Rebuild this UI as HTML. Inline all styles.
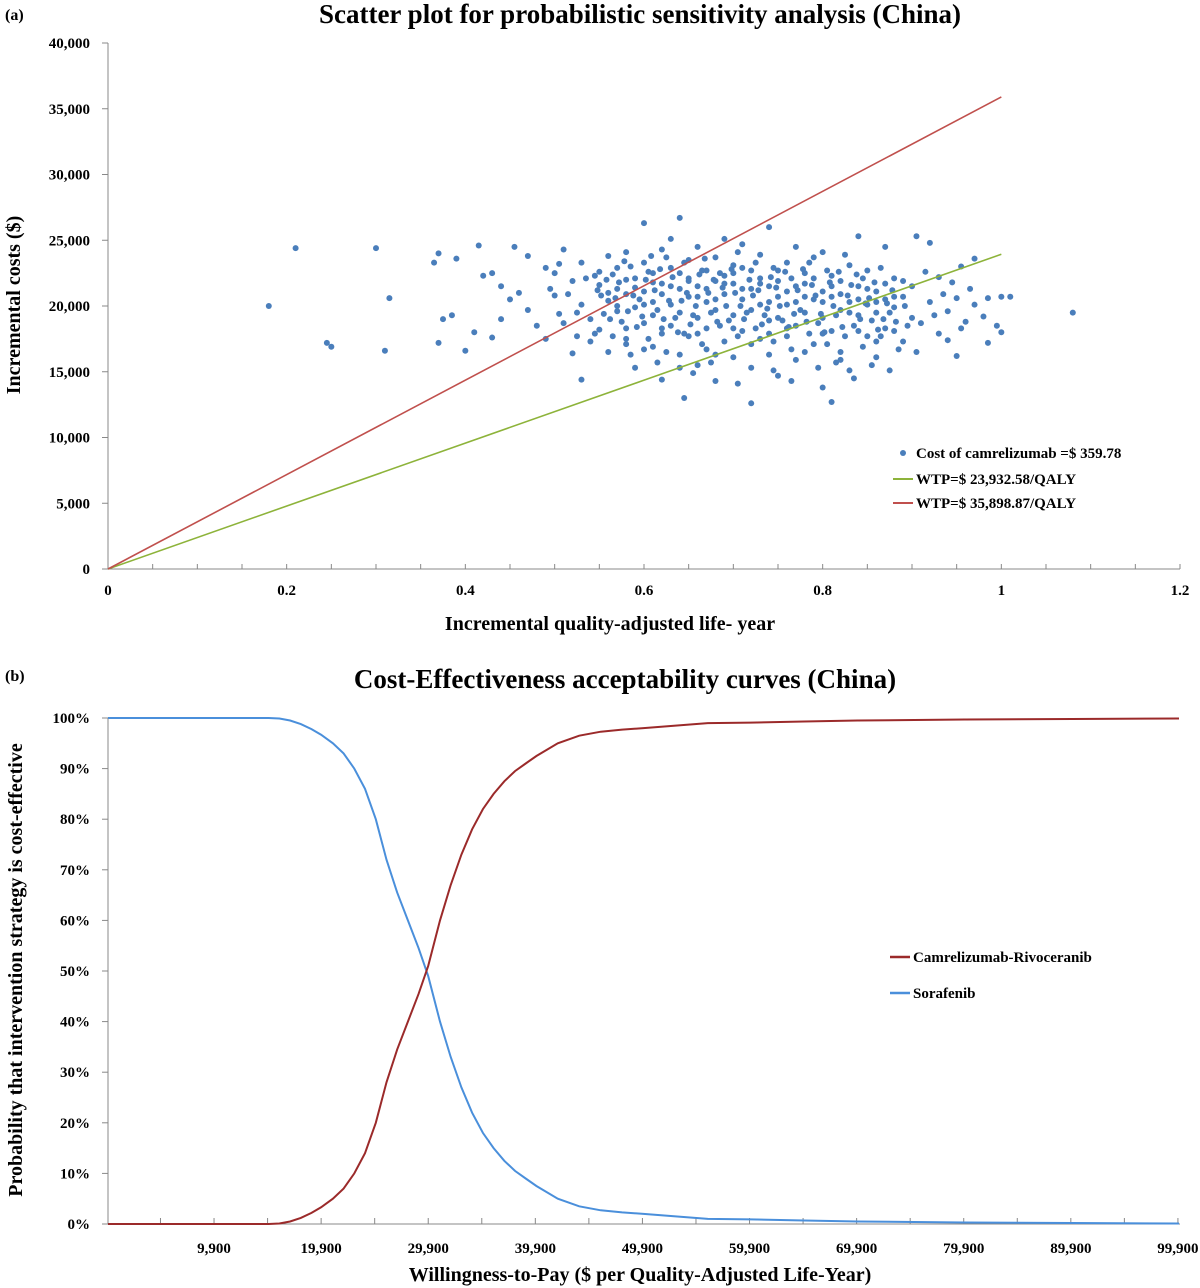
<!DOCTYPE html>
<html><head><meta charset="utf-8">
<style>
body{margin:0;background:#fff;}
svg{display:block;font-family:"Liberation Serif",serif;font-weight:bold;}
</style></head>
<body>
<svg id="chart" width="1200" height="1288" viewBox="0 0 1200 1288">
<text x="5" y="20" font-size="16">(a)</text>
<text x="640" y="23" font-size="27" text-anchor="middle">Scatter plot for probabilistic sensitivity analysis (China)</text>
<text x="610" y="630" font-size="20" text-anchor="middle">Incremental  quality-adjusted life- year</text>
<text transform="translate(20,305) rotate(-90)" font-size="20" text-anchor="middle">Incremental costs ($)</text>
<g id="scatterAxes"></g>
<g id="scatterMarks"></g>
<g>
<circle cx="903" cy="453" r="3" fill="#4a7ebb"/>
<text x="916" y="458" font-size="15">Cost of camrelizumab =$ 359.78</text>
<line x1="893" y1="479" x2="913" y2="479" stroke="#8db33a" stroke-width="2"/>
<text x="916" y="484" font-size="15">WTP=$ 23,932.58/QALY</text>
<line x1="893" y1="503" x2="913" y2="503" stroke="#c0504d" stroke-width="2"/>
<text x="916" y="508" font-size="15">WTP=$ 35,898.87/QALY</text>
</g>
<text x="5" y="681" font-size="16">(b)</text>
<text x="625" y="688" font-size="27" text-anchor="middle">Cost-Effectiveness acceptability curves (China)</text>
<text x="640" y="1281" font-size="20" text-anchor="middle">Willingness-to-Pay ($ per Quality-Adjusted Life-Year)</text>
<text transform="translate(22,970) rotate(-90)" font-size="20" text-anchor="middle">Probability that intervention strategy is cost-effective</text>
<g id="ceacAxes"></g>
<g id="ceacMarks"></g>
<g>
<line x1="890" y1="957" x2="910" y2="957" stroke="#9b2a2a" stroke-width="2.5"/>
<text x="913" y="962" font-size="15">Camrelizumab-Rivoceranib</text>
<line x1="890" y1="993" x2="910" y2="993" stroke="#4a8fdb" stroke-width="2.5"/>
<text x="913" y="998" font-size="15">Sorafenib</text>
</g>
</svg>
<script>
const scatterXTicks=[0,0.2,0.4,0.6,0.8,1,1.2];
const scatterYTicks=[0,5000,10000,15000,20000,25000,30000,35000,40000];
const wtpValues=[23932.58,35898.87];
const wtpColors=["#8db33a","#c0504d"];
const scatterPoints=[[0.18,20000],[0.21,24400],[0.245,17200],[0.25,16900],[0.30,24400],[0.31,16600],[0.315,20600],[0.365,23300],[0.37,24000],[0.37,17200],[0.375,19000],[0.385,19300],[0.39,23600],[0.40,16600],[0.41,18000],[0.415,24600],[0.42,22300],[0.43,22500],[0.44,19000],[0.45,20500],[0.455,24500],[0.46,21000],[0.47,23800],[0.48,18500],[0.44,21500],[0.43,17600],[0.47,19700],[0.49,22900],[0.49,17500],[0.50,20800],[0.50,22500],[0.51,18700],[0.51,24300],[0.52,21900],[0.52,16400],[0.53,14400],[0.53,20100],[0.53,23300],[0.54,19000],[0.54,17300],[0.55,21600],[0.55,22600],[0.55,18200],[0.56,20400],[0.56,23800],[0.56,16500],[0.57,19600],[0.57,21300],[0.57,22900],[0.58,18300],[0.58,20900],[0.58,24100],[0.58,17100],[0.59,19900],[0.59,22100],[0.59,15300],[0.60,21100],[0.60,18700],[0.60,23300],[0.60,26300],[0.61,20300],[0.61,16900],[0.61,22500],[0.61,19300],[0.62,21700],[0.62,24300],[0.62,17900],[0.62,14400],[0.63,20100],[0.63,22900],[0.63,18500],[0.63,25100],[0.64,21300],[0.64,19500],[0.64,26700],[0.64,16300],[0.645,13000],[0.65,20700],[0.65,23500],[0.65,17700],[0.65,22100],[0.66,19100],[0.66,21500],[0.66,15500],[0.66,24500],[0.67,20300],[0.67,22700],[0.67,18300],[0.67,16700],[0.68,21900],[0.68,19700],[0.68,23700],[0.68,14300],[0.69,20900],[0.69,17300],[0.69,22300],[0.69,25100],[0.70,19300],[0.70,21700],[0.70,16100],[0.70,23100],[0.71,20500],[0.71,18100],[0.71,22900],[0.71,24700],[0.72,12600],[0.72,21300],[0.72,19700],[0.72,15300],[0.73,22100],[0.73,20100],[0.73,17500],[0.73,23900],[0.74,26000],[0.74,21500],[0.74,18900],[0.74,16300],[0.75,20700],[0.75,22700],[0.75,19100],[0.75,14700],[0.76,21100],[0.76,23300],[0.76,17700],[0.77,20300],[0.77,24500],[0.77,18500],[0.77,15900],[0.78,21700],[0.78,19500],[0.78,22500],[0.79,20500],[0.79,17100],[0.79,23700],[0.80,13800],[0.80,21100],[0.80,19100],[0.80,24100],[0.81,12700],[0.81,20700],[0.81,22300],[0.81,18100],[0.82,19700],[0.82,21900],[0.82,16500],[0.83,20300],[0.83,23100],[0.83,15100],[0.84,25300],[0.84,19300],[0.84,21500],[0.85,20100],[0.85,17700],[0.85,22700],[0.86,19500],[0.86,21100],[0.86,16100],[0.87,20500],[0.87,24500],[0.87,18300],[0.88,19900],[0.88,22100],[0.89,20700],[0.89,17300],[0.90,19100],[0.90,21500],[0.905,25300],[0.91,18700],[0.92,24800],[0.92,20300],[0.93,22200],[0.93,17900],[0.94,19600],[0.95,16200],[0.95,20600],[0.96,18800],[0.97,23600],[0.97,20100],[0.98,19200],[1.00,18000],[1.00,20700],[1.01,20700],[1.08,19500],
[0.56,21000],[0.57,20000],[0.58,22000],[0.59,21400],[0.60,20100],[0.61,21800],[0.62,20900],[0.63,21500],[0.64,22500],[0.65,21900],[0.66,20700],[0.67,21300],[0.68,20500],[0.69,21700],[0.70,22500],[0.71,21300],[0.72,22700],[0.73,21700],[0.74,20300],[0.75,21900],[0.76,20100],[0.77,21500],[0.78,20700],[0.79,22100],[0.80,20300],[0.81,21500],[0.82,20900],[0.83,19500],[0.84,20500],[0.85,21300],[0.86,20300],[0.87,21700],[0.88,20700],[0.89,21900],
[0.555,19400],[0.575,18800],[0.595,20500],[0.615,19700],[0.635,19100],[0.655,19300],[0.675,19500],[0.695,18900],[0.715,19500],[0.735,19300],[0.755,18900],[0.775,19700],[0.795,18700],[0.815,19300],[0.835,18500],[0.855,18900],[0.875,19500],[0.895,18500],
[0.545,22300],[0.565,22400],[0.585,23000],[0.605,22600],[0.625,23700],[0.645,23300],[0.665,22700],[0.685,22500],[0.705,24100],[0.725,23300],[0.745,22900],[0.765,22100],[0.785,23300],[0.805,22700],[0.825,23900],[0.845,22100],[0.865,22900],
[0.565,17700],[0.585,16300],[0.605,17500],[0.625,16500],[0.645,17900],[0.665,17100],[0.685,18500],[0.705,17700],[0.725,18300],[0.745,17300],[0.765,16700],[0.785,17900],[0.805,17100],[0.825,17700],[0.845,16900],[0.865,17700],[0.885,16700],[0.905,16500],
[0.615,15700],[0.655,14900],[0.675,15700],[0.705,14100],[0.745,15100],[0.765,14300],[0.795,15300],[0.815,15700],[0.835,14500],[0.855,15500],[0.875,15100],
[0.515,20900],[0.525,19500],[0.535,22100],[0.545,17900],[0.505,19400],[0.495,21300],[0.505,23200],[0.525,17700],[0.915,22600],[0.925,19300],[0.935,20900],[0.945,21800],[0.955,18300],[0.965,21300],[0.985,20600],[0.995,18500],[0.985,17200],[0.955,23000],[0.94,17400],
[0.552,20800],[0.562,19000],[0.572,21800],[0.582,19600],[0.592,18400],[0.602,22000],[0.612,21200],[0.622,19000],[0.632,22200],[0.642,20400],[0.652,18600],[0.662,22400],[0.672,21000],[0.682,18800],[0.692,20000],[0.702,21000],[0.712,19000],[0.722,20800],[0.732,18600],[0.742,22200],[0.752,20000],[0.762,18400],[0.772,21200],[0.782,18800],[0.792,20800],[0.802,18000],[0.812,20000],[0.822,18400],[0.832,21600],[0.842,19000],[0.852,20600],[0.862,18200],[0.872,20200],[0.882,18800],[0.892,20000],
[0.548,21200],[0.558,22000],[0.568,20600],[0.578,23400],[0.588,20800],[0.598,19200],[0.608,23800],[0.618,22800],[0.628,20400],[0.638,18000],[0.648,21000],[0.658,20000],[0.668,23600],[0.678,22000],[0.688,21400],[0.698,22800],[0.708,20000],[0.718,22000],[0.728,21200],[0.738,19800],[0.748,21400],[0.758,22600],[0.768,19400],[0.778,22800],[0.788,21600],[0.798,19400],[0.808,21800],[0.818,22600],[0.828,20800],[0.838,22400],[0.848,20200],[0.858,21800],[0.868,19000],[0.878,21200],
[0.58,17500],[0.60,16700],[0.62,18300],[0.64,15300],[0.66,17900],[0.68,16300],[0.70,18300],[0.72,17100],[0.74,17900],[0.76,18300],[0.78,16500],[0.80,17900],[0.82,15900],[0.84,18100],[0.86,17300],[0.88,18100]];
const ceacX=[0,5000,10000,15000,16000,17000,18000,19000,19900,21000,22000,23000,24000,25000,26000,27000,28000,29000,29900,31000,32000,33000,34000,35000,36000,37000,38000,39000,40000,42000,44000,46000,48000,50000,53000,56000,60000,65000,70000,80000,90000,100000];
const camre=[0,0,0,0,0.1,0.5,1.2,2.2,3.3,5,7,10,14,20,28,34.5,40,45.5,51,60,67,73,78,82,85,87.5,89.5,91,92.5,95,96.5,97.3,97.7,98,98.5,99,99.1,99.3,99.5,99.7,99.8,99.9];
const ceacXTicks=[9900,19900,29900,39900,49900,59900,69900,79900,89900,99900];
const ceacYTicks=[0,10,20,30,40,50,60,70,80,90,100];
const NS="http://www.w3.org/2000/svg";
function mk(tag,attrs,parent){const e=document.createElementNS(NS,tag);for(const k in attrs)e.setAttribute(k,attrs[k]);parent.appendChild(e);return e;}
const sx=v=>108+v*(1180-108)/1.2, sy=v=>569-v*(569-43)/40000;
const sA=document.getElementById('scatterAxes'), sM=document.getElementById('scatterMarks');
let ax=mk('line',{x1:108,y1:43,x2:108,y2:569,stroke:'#888','stroke-width':1},sA);


ax=mk('line',{x1:108,y1:569,x2:1180,y2:569,stroke:'#888','stroke-width':1},sA);


scatterYTicks.forEach(t=>{mk('line',{x1:102,x2:108,y1:sy(t),y2:sy(t),stroke:'#888'},sA);
 const tx=mk('text',{x:90,y:sy(t)+5,'font-size':15,'text-anchor':'end'},sA);tx.textContent=t.toLocaleString('en-US');
 
 });
for(let i=1;i<=24;i++){const v=i*0.05;mk('line',{x1:sx(v),x2:sx(v),y1:569,y2:564,stroke:'#888'},sA);}
scatterXTicks.forEach(t=>{const tx=mk('text',{x:sx(t),y:595,'font-size':15,'text-anchor':'middle'},sA);tx.textContent=String(t);
 
 });
scatterPoints.forEach(p=>{const c=mk('circle',{cx:sx(p[0]),cy:sy(p[1]),r:3,fill:'#4a7ebb'},sM);
 
 });
wtpValues.forEach((w,i)=>{const l=mk('line',{x1:sx(0),y1:sy(0),x2:sx(1),y2:sy(w),stroke:wtpColors[i],'stroke-width':1.6},sM);
 
 });
const cx=v=>108+v*(1179-108)/100000, cy=v=>1224-v*(1224-718)/100;
const cA=document.getElementById('ceacAxes'), cM=document.getElementById('ceacMarks');
ax=mk('line',{x1:108,y1:718,x2:108,y2:1224,stroke:'#888'},cA);


ax=mk('line',{x1:108,y1:1224,x2:1180,y2:1224,stroke:'#888'},cA);


ceacYTicks.forEach(t=>{mk('line',{x1:102,x2:108,y1:cy(t),y2:cy(t),stroke:'#888'},cA);
 const tx=mk('text',{x:90,y:cy(t)+5,'font-size':15,'text-anchor':'end'},cA);tx.textContent=t+'%';
 
 });
for(let v=4900;v<100000;v+=5000){mk('line',{x1:cx(v),x2:cx(v),y1:1224,y2:1218,stroke:'#888'},cA);}
ceacXTicks.forEach(t=>{const tx=mk('text',{x:cx(t),y:1253,'font-size':15,'text-anchor':'middle'},cA);tx.textContent=t.toLocaleString('en-US');
 
 });
const dC=ceacX.map((x,i)=>(i?'L':'M')+cx(x).toFixed(1)+','+cy(camre[i]).toFixed(1)).join('');
const dS=ceacX.map((x,i)=>(i?'L':'M')+cx(x).toFixed(1)+','+cy(100-camre[i]).toFixed(1)).join('');
let pth=mk('path',{d:dS,fill:'none',stroke:'#4a8fdb','stroke-width':2},cM);


pth=mk('path',{d:dC,fill:'none',stroke:'#9b2a2a','stroke-width':2},cM);


</script>
</body></html>
